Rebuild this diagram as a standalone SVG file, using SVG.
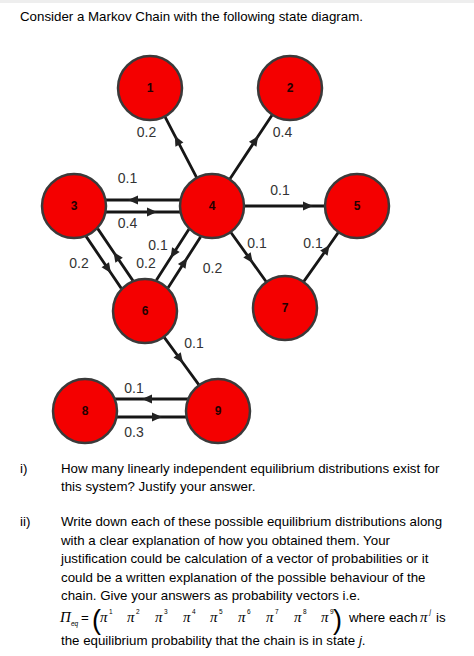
<svg xmlns="http://www.w3.org/2000/svg" width="474" height="656" viewBox="0 0 474 656">
<defs>
<marker id="ah" viewBox="-11 -5 12 10" refX="0" refY="0" markerWidth="12" markerHeight="10" markerUnits="userSpaceOnUse" orient="auto">
<path d="M0,0 L-10,-4.5 L-10,4.5 Z" fill="#222"/>
</marker>
<style>
.txt{font-family:"Liberation Sans",Arial,sans-serif;font-size:13.3px;fill:#000}
.node circle{fill:#f40000;stroke:#3a3a3a;stroke-width:2.5}
.node text{font-family:"Liberation Sans",Arial,sans-serif;font-size:12px;font-weight:bold;fill:#220000;text-anchor:middle}
.edge{fill:none;stroke:#161616;stroke-width:2.8;marker-mid:url(#ah)}
.lbl{font-family:"Liberation Sans",Arial,sans-serif;font-size:14px;fill:#333;text-anchor:middle}
.m{font-family:"Liberation Serif","Times New Roman",serif;font-style:italic;font-size:15px;fill:#000}
.sup{font-family:"Liberation Sans",Arial,sans-serif;font-size:6.5px;fill:#000}
.par{font-family:"Liberation Sans",Arial,sans-serif;font-size:27px;fill:#000}
</style>
</defs>
<rect width="474" height="656" fill="#fff"/>
<rect width="474" height="3" fill="#eeeeee"/>
<text class="txt" x="20" y="21">Consider a Markov Chain with the following state diagram.</text>

<g id="connectors">
<path class="edge" d="M197.2,178.6 L174.8,135.7 L164.8,116.4"/>
<path class="edge" d="M229.7,179.3 L258.2,136 L272.3,114.7"/>
<path class="edge" d="M180.6,200 L128,200 L105.4,200"/>
<path class="edge" d="M105.4,212 L157,212 L180.6,212"/>
<path class="edge" d="M244,206 L313,206 L325,206"/>
<path class="edge" d="M86.1,236.4 L110.9,273 L121.3,288.4"/>
<path class="edge" d="M132.9,280.6 L113.5,252 L97.7,228.6"/>
<path class="edge" d="M188.9,229.2 L170.5,258 L156.3,280.2"/>
<path class="edge" d="M168.1,287.8 L187.1,258 L200.7,236.8"/>
<path class="edge" d="M230.6,232 L252.8,263 L266.4,282"/>
<path class="edge" d="M303.5,281.9 L329.6,245 L338.5,232.1"/>
<path class="edge" d="M163.9,336.9 L183,363 L199.1,385.1"/>
<path class="edge" d="M188.3,399 L142,399 L114.7,399"/>
<path class="edge" d="M116.4,417 L162,417 L186.6,417"/>
<text class="lbl" x="146.5" y="137">0.2</text>
<text class="lbl" x="282.5" y="137">0.4</text>
<text class="lbl" x="127.5" y="183">0.1</text>
<text class="lbl" x="127.5" y="228">0.4</text>
<text class="lbl" x="280" y="195">0.1</text>
<text class="lbl" x="79" y="268">0.2</text>
<text class="lbl" x="146" y="268">0.2</text>
<text class="lbl" x="158" y="250">0.1</text>
<text class="lbl" x="212.5" y="273">0.2</text>
<text class="lbl" x="257" y="248">0.1</text>
<text class="lbl" x="313" y="248">0.1</text>
<text class="lbl" x="194" y="348">0.1</text>
<text class="lbl" x="134" y="393">0.1</text>
<text class="lbl" x="134" y="437">0.3</text>
</g>

<g id="node1" class="node"><circle cx="150" cy="88" r="32"/><text x="150" y="92">1</text></g>
<g id="node2" class="node"><circle cx="290" cy="88" r="32"/><text x="290" y="92">2</text></g>
<g id="node3" class="node"><circle cx="74" cy="206" r="32"/><text x="74" y="210">3</text></g>
<g id="node4" class="node"><circle cx="212" cy="206" r="32"/><text x="212" y="210">4</text></g>
<g id="node5" class="node"><circle cx="357" cy="206" r="32"/><text x="357" y="210">5</text></g>
<g id="node6" class="node"><circle cx="145" cy="311" r="32"/><text x="145" y="315">6</text></g>
<g id="node7" class="node"><circle cx="285" cy="308" r="32"/><text x="285" y="312">7</text></g>
<g id="node8" class="node"><circle cx="85" cy="411" r="32"/><text x="85" y="415">8</text></g>
<g id="node9" class="node"><circle cx="218" cy="411" r="32"/><text x="218" y="415">9</text></g>

<g id="questions">
<text class="txt" x="20" y="473">i)</text>
<text class="txt" x="61" y="473">How many linearly independent equilibrium distributions exist for</text>
<text class="txt" x="61" y="491">this system? Justify your answer.</text>
<text class="txt" x="20" y="526">ii)</text>
<text class="txt" x="61" y="526">Write down each of these possible equilibrium distributions along</text>
<text class="txt" x="61" y="545">with a clear explanation of how you obtained them. Your</text>
<text class="txt" x="61" y="563">justification could be calculation of a vector of probabilities or it</text>
<text class="txt" x="61" y="582">could be a written explanation of the possible behaviour of the</text>
<text class="txt" x="61" y="600">chain. Give your answers as probability vectors i.e.</text>
<text class="m" x="60" y="622">Π</text>
<text class="sup" x="71" y="626" font-style="italic">eq</text>
<text class="txt" x="81" y="622">=</text>
<text class="par" x="92" y="629">(</text>
<text class="m" x="100" y="622">π</text><text class="sup" x="109" y="614">1</text>
<text class="m" x="127" y="622">π</text><text class="sup" x="136" y="614">2</text>
<text class="m" x="155" y="622">π</text><text class="sup" x="164" y="614">3</text>
<text class="m" x="183" y="622">π</text><text class="sup" x="192" y="614">4</text>
<text class="m" x="210" y="622">π</text><text class="sup" x="219" y="614">5</text>
<text class="m" x="238" y="622">π</text><text class="sup" x="247" y="614">6</text>
<text class="m" x="266" y="622">π</text><text class="sup" x="275" y="614">7</text>
<text class="m" x="294" y="622">π</text><text class="sup" x="303" y="614">8</text>
<text class="m" x="321" y="622">π</text><text class="sup" x="330" y="614">9</text>
<text class="par" x="333" y="629">)</text>
<text class="txt" x="349" y="622">where each</text>
<text class="m" x="420" y="622">π</text><text class="sup" x="429.5" y="614" font-style="italic" font-size="8">j</text>
<text class="txt" x="436" y="622">is</text>
<text class="txt" x="61" y="645">the equilibrium probability that the chain is in state <tspan font-style="italic">j</tspan>.</text>
</g>
</svg>
